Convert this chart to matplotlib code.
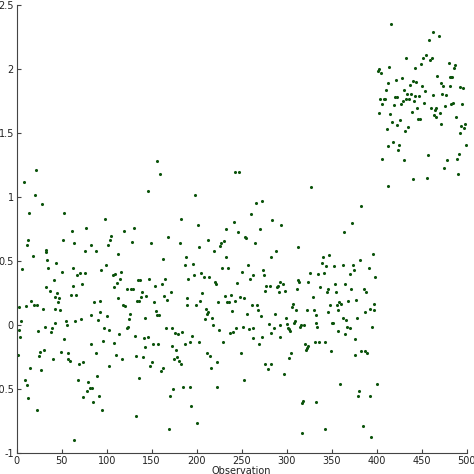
import numpy as np
import matplotlib
matplotlib.use("Agg")
import matplotlib.pyplot as plt

obs_low = [8, 21, 20, 28, 14, 53, 98, 77, 61, 130, 119, 12, 11, 51, 64, 105, 104, 101, 128, 83,
           88, 76, 33, 32, 18, 113, 34, 44, 6, 35, 50, 63, 70, 76, 67, 99, 94, 116, 109, 107,
           41, 115, 111, 62, 72, 33, 37, 45, 108, 123, 127, 129, 60, 66, 2, 10, 16, 19, 22, 29,
           43, 47, 46, 42, 48, 86, 93, 112, 118, 120, 134, 5, 3, 4, 24, 31, 38, 39, 43, 55,
           56, 65, 71, 82, 90, 92, 100, 97, 103, 96, 114, 122, 124, 126, 125, 131, 52, 83, 108, 1,
           25, 26, 30, 40, 49, 57, 57, 59, 88, 110, 117, 133, 69, 74, 102, 15, 27, 68, 89, 9,
           11, 79, 81, 84, 78, 74, 91, 13, 85, 23, 95, 132, 64,
           156, 159, 146, 243, 247, 198, 266, 183, 260, 201, 241, 232, 246, 270, 168, 212, 254, 255, 149, 181,
           202, 230, 227, 226, 265, 219, 163, 188, 233, 187, 196, 228, 235, 257, 250, 205, 197, 208, 214, 190,
           220, 221, 263, 259, 245, 135, 137, 147, 154, 161, 165, 139, 171, 206, 238, 136, 138, 144, 152, 164,
           167, 189, 189, 199, 204, 224, 231, 234, 236, 242, 248, 253, 261, 267, 268, 210, 239, 256, 155, 156,
           158, 142, 209, 211, 213, 217, 218, 166, 173, 176, 179, 184, 225, 237, 240, 244, 251, 258, 262, 141,
           146, 151, 157, 143, 172, 187, 193, 195, 203, 229, 263, 269, 177, 140, 175, 178, 180, 182, 211, 215,
           222, 216, 249, 150, 148, 162, 160, 136, 252, 185, 192, 223, 174, 170, 194, 200, 169,
           327, 273, 383, 284, 294, 373, 364, 312, 288, 283, 396, 340, 339, 347, 344, 353, 362, 374, 381, 391,
           375, 274, 275, 326, 335, 341, 370, 398, 313, 314, 324, 277, 281, 289, 290, 293, 296, 276, 291, 298,
           311, 337, 354, 365, 346, 345, 355, 371, 386, 388, 329, 271, 307, 306, 310, 323, 330, 348, 356, 358,
           360, 357, 368, 377, 397, 397, 392, 387, 287, 299, 333, 346, 378, 363, 366, 280, 286, 282, 292, 300,
           301, 303, 304, 308, 309, 315, 316, 319, 332, 334, 350, 351, 357, 367, 370, 365, 395, 272, 292, 376,
           320, 324, 322, 321, 331, 336, 343, 349, 376, 382, 387, 389, 305, 302, 276, 283, 279, 297, 359, 400,
           380, 379, 393, 318, 317, 333, 385, 342, 317, 394]
val_low = [1.12, 1.21, 1.02, 0.95, 0.88, 0.875, 0.83, 0.76, 0.74, 0.76, 0.74, 0.67, 0.625, 0.67, 0.64, 0.70, 0.67, 0.625, 0.65, 0.63,
           0.58, 0.58, 0.59, 0.57, 0.54, 0.56, 0.51, 0.49, 0.44, 0.45, 0.42, 0.45, 0.41, 0.41, 0.39, 0.47, 0.43, 0.42, 0.40, 0.39,
           0.35, 0.36, 0.33, 0.31, 0.32, 0.30, 0.27, 0.25, 0.30, 0.28, 0.28, 0.28, 0.24, 0.24, 0.14, 0.15, 0.19, 0.16, 0.16, 0.13,
           0.22, 0.21, 0.18, 0.13, 0.12, 0.18, 0.19, 0.21, 0.16, 0.15, 0.19, 0.03, -0.04, -0.09, -0.045, -0.016, -0.05, -0.02, 0.02, 0.03,
           0.0, 0.03, 0.05, 0.08, 0.04, 0.10, 0.075, -0.02, -0.04, -0.12, -0.07, -0.02, -0.01, 0.09, 0.05, -0.08, -0.11, -0.15, -0.14, -0.23,
           -0.24, -0.21, -0.19, -0.26, -0.21, -0.22, -0.26, -0.28, -0.22, -0.23, -0.26, -0.24, -0.30, -0.29, -0.32, -0.33, -0.35, -0.425, -0.40, -0.43,
           -0.47, -0.44, -0.49, -0.49, -0.51, -0.56, -0.555, -0.57, -0.60, -0.66, -0.66, -0.71, -0.90,
           1.28, 1.18, 1.05, 1.195, 1.195, 1.02, 0.955, 0.83, 0.87, 0.78, 0.81, 0.75, 0.73, 0.75, 0.69, 0.67, 0.69, 0.68, 0.64, 0.64,
           0.61, 0.66, 0.64, 0.62, 0.64, 0.58, 0.52, 0.53, 0.53, 0.47, 0.48, 0.45, 0.45, 0.47, 0.42, 0.41, 0.39, 0.38, 0.375, 0.36,
           0.34, 0.32, 0.39, 0.36, 0.33, 0.35, 0.35, 0.36, 0.31, 0.32, 0.36, 0.26, 0.26, 0.25, 0.24, 0.19, 0.22, 0.23, 0.18, 0.23,
           0.20, 0.21, 0.16, 0.16, 0.19, 0.18, 0.23, 0.18, 0.18, 0.19, 0.22, 0.21, 0.16, 0.16, 0.12, 0.13, 0.11, 0.09, 0.11, 0.08,
           0.08, 0.06, 0.05, 0.086, 0.10, 0.06, 0.0, -0.02, -0.02, -0.06, -0.07, -0.05, -0.04, -0.06, -0.05, -0.02, -0.01, -0.03, -0.02, -0.10,
           -0.09, -0.15, -0.15, -0.17, -0.16, -0.15, -0.13, -0.08, -0.13, -0.13, -0.10, -0.15, -0.19, -0.25, -0.26, -0.25, -0.28, -0.30, -0.22, -0.24,
           -0.29, -0.33, -0.22, -0.29, -0.32, -0.33, -0.36, -0.41, -0.43, -0.48, -0.48, -0.48, -0.50, -0.555, -0.63, -0.76, -0.81,
           1.08, 0.97, 0.93, 0.82, 0.78, 0.80, 0.73, 0.61, 0.58, 0.53, 0.56, 0.53, 0.49, 0.55, 0.46, 0.46, 0.47, 0.47, 0.51, 0.45,
           0.43, 0.43, 0.39, 0.41, 0.40, 0.41, 0.40, 0.375, 0.35, 0.34, 0.34, 0.31, 0.31, 0.30, 0.31, 0.34, 0.32, 0.27, 0.26, 0.27,
           0.28, 0.30, 0.32, 0.325, 0.28, 0.26, 0.26, 0.28, 0.28, 0.26, 0.22, 0.07, 0.17, 0.145, 0.12, 0.12, 0.12, 0.16, 0.16, 0.18,
           0.17, 0.12, 0.19, 0.20, 0.17, 0.12, 0.13, 0.10, 0.09, 0.06, 0.08, 0.10, 0.06, 0.06, 0.04, 0.01, -0.02, -0.06, 0.0, 0.01,
           -0.02, -0.03, -0.045, 0.016, 0.036, -0.01, 0.0, 0.005, 0.02, -0.01, 0.02, 0.016, -0.045, -0.01, -0.02, -0.07, -0.013, -0.09, -0.09, -0.11,
           -0.15, -0.16, -0.175, -0.19, -0.13, -0.13, -0.13, -0.20, -0.23, -0.20, -0.20, -0.22, -0.22, -0.255, -0.30, -0.30, -0.34, -0.38, -0.46, -0.46,
           -0.51, -0.55, -0.55, -0.59, -0.61, -0.60, -0.79, -0.81, -0.84, -0.87]

# observations 401-500
obs_high = [416, 458, 432, 451, 455, 459, 461, 449, 443, 414, 401, 403, 405, 428, 421, 413, 440, 444, 437, 450,
            410, 430, 454, 434, 438, 442, 447, 420, 422, 404, 408, 409, 433, 436, 429, 441, 453, 406, 402, 419,
            427, 445, 439, 415, 417, 426, 446, 448, 423, 411, 435, 431, 418, 412, 425, 424, 430, 457, 406, 440,
            456, 413, 462, 469, 480, 487, 486, 467, 481, 482, 484, 471, 474, 481, 493, 496, 463, 473, 477, 483,
            485, 495, 460, 466, 465, 470, 476, 464, 466, 471, 488, 494, 498, 497, 492, 499, 491, 489, 478, 475,
            490]
val_high = [2.35, 2.23, 2.09, 2.09, 2.11, 2.07, 2.09, 2.04, 2.01, 2.02, 1.99, 2.00, 1.97, 1.93, 1.92, 1.89, 1.91, 1.90, 1.875, 1.87,
            1.84, 1.84, 1.83, 1.81, 1.81, 1.79, 1.79, 1.78, 1.78, 1.77, 1.77, 1.77, 1.77, 1.77, 1.75, 1.75, 1.74, 1.73, 1.66, 1.72,
            1.73, 1.70, 1.67, 1.65, 1.59, 1.60, 1.61, 1.61, 1.565, 1.53, 1.55, 1.52, 1.43, 1.40, 1.41, 1.37, 1.29, 1.33, 1.30, 1.14,
            1.15, 1.09, 2.29, 2.26, 2.05, 2.03, 2.01, 1.95, 1.94, 1.94, 1.94, 1.89, 1.87, 1.87, 1.86, 1.85, 1.80, 1.81, 1.80, 1.73,
            1.74, 1.73, 1.70, 1.70, 1.68, 1.66, 1.71, 1.64, 1.63, 1.57, 1.63, 1.56, 1.57, 1.54, 1.50, 1.41, 1.34, 1.30, 1.29, 1.23,
            1.18]

x_ticks = [0, 50, 100, 150, 200, 250, 300, 350, 400, 450, 500]
y_ticks = [-1, -0.5, 0, 0.5, 1, 1.5, 2, 2.5]
y_labels = ['-1', '-0.5', '0', '0.5', '1', '1.5', '2', '2.5']

fig = plt.figure(figsize=(4.74, 4.74), dpi=100)
ax = fig.add_axes([16.7 / 474, 1 - 453.3 / 474, 450 / 474, 448 / 474])

dot_color = '#0b530b'
ax.scatter(obs_low, val_low, s=5, color=dot_color, linewidths=0)
ax.scatter(obs_high, val_high, s=5, color=dot_color, linewidths=0)

ax.set_xlim(0, 500)
ax.set_ylim(-1, 2.5)
ax.set_xticks(x_ticks)
ax.set_yticks(y_ticks)
ax.set_yticklabels(y_labels)

for side in ['top', 'right']:
    ax.spines[side].set_visible(False)
for side in ['left', 'bottom']:
    ax.spines[side].set_color('#444444')
    ax.spines[side].set_linewidth(0.8)

ax.tick_params(direction='in', length=3, width=0.8, labelsize=7, colors='#444444',
               labelcolor='#222222', pad=2)
ax.set_xlabel('Observation', fontsize=7, color='#222222', labelpad=0)

fig.savefig('out.png', dpi=100)
